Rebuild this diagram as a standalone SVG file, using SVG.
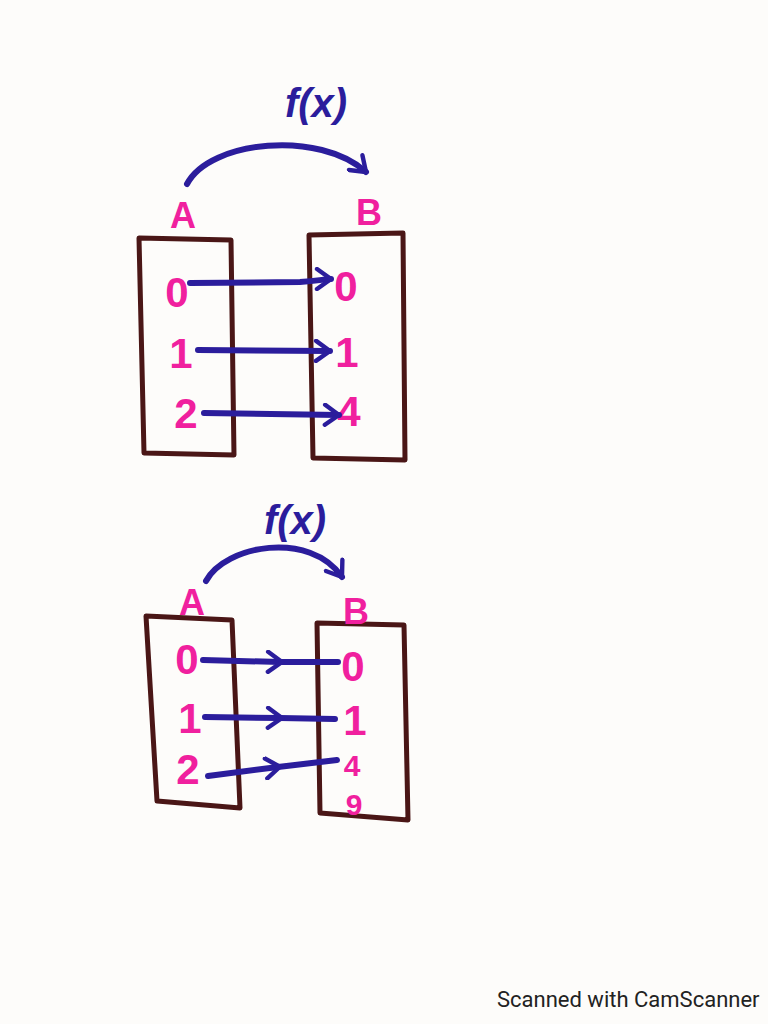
<svg xmlns="http://www.w3.org/2000/svg" width="768" height="1024" viewBox="0 0 768 1024">
<style>
.box{fill:none;stroke:#4a1616;stroke-width:5;stroke-linejoin:round}
.num{fill:#f0209e;font-family:"Liberation Sans",Arial,sans-serif;font-size:42px;font-weight:bold;text-anchor:middle}
.sm{font-size:30px}
.lab{fill:#f0209e;font-family:"Liberation Sans",Arial,sans-serif;font-size:36px;font-weight:bold;text-anchor:middle}
.fx{fill:#2b1d9c;font-family:"Liberation Sans",Arial,sans-serif;font-size:40px;font-weight:bold;font-style:italic;text-anchor:middle}
.ln{fill:none;stroke:#2b1d9c;stroke-width:6;stroke-linecap:round;stroke-linejoin:round}
.credit{fill:#222;font-family:Roboto,"Liberation Sans",sans-serif;font-size:22px}
</style>
<defs>
<marker id="ah" viewBox="0 0 12 12" refX="9" refY="6" markerWidth="4" markerHeight="4" orient="auto" markerUnits="strokeWidth">
<path d="M2,1 L9,6 L2,11" fill="none" stroke="#2b1d9c" stroke-width="2.2" stroke-linecap="round" stroke-linejoin="round"/>
</marker>
<marker id="mh" viewBox="0 0 12 12" refX="8" refY="6" markerWidth="4" markerHeight="4" orient="auto" markerUnits="strokeWidth">
<path d="M2,1 L9,6 L2,11" fill="none" stroke="#2b1d9c" stroke-width="2.2" stroke-linecap="round" stroke-linejoin="round"/>
</marker>
</defs>
<rect width="768" height="1024" fill="#fdfcfa"/>

<!-- Top diagram -->
<g id="top-A">
<polygon class="box" points="139,238 231,240 234,455 144,453"/>
<text class="lab" x="183" y="228">A</text>
<text class="num" x="177" y="307">0</text>
<text class="num" x="181" y="368">1</text>
<text class="num" x="186" y="428">2</text>
</g>
<g id="top-B">
<polygon class="box" points="309,235 403,233 405,460 313,458"/>
<text class="lab" x="369" y="225">B</text>
<text class="num" x="346" y="301">0</text>
<text class="num" x="347" y="367">1</text>
<text class="num" x="349" y="426">4</text>
</g>
<text class="fx" x="316" y="117">f(x)</text>

<!-- Bottom diagram -->
<g id="bot-A">
<polygon class="box" points="146,616 232,620 240,808 157,801"/>
<text class="lab" x="192" y="615">A</text>
<text class="num" x="187" y="674">0</text>
<text class="num" x="190" y="733">1</text>
<text class="num" x="188" y="784">2</text>
</g>
<g id="bot-B">
<polygon class="box" points="317,623 404,625 408,820 320,813"/>
<text class="lab" x="356" y="624">B</text>
<text class="num" x="353" y="681">0</text>
<text class="num" x="355" y="735">1</text>
<text class="num sm" x="352" y="776">4</text>
<text class="num sm" x="354" y="815">9</text>
</g>
<text class="fx" x="295" y="534">f(x)</text>

<g id="connectors">
<path class="ln" d="M187,184 C210,140 320,130 366,172" marker-end="url(#ah)"/>
<path class="ln" d="M190,283 L300,282 C318,281 325,279 331,279" marker-end="url(#ah)"/>
<path class="ln" d="M198,350 L330,351" marker-end="url(#ah)"/>
<path class="ln" d="M204,413 L339,415" marker-end="url(#ah)"/>

<path class="ln" d="M206,581 C225,545 310,530 342,577" marker-end="url(#ah)"/>
<path class="ln" d="M203,660 L280,662 L338,662" marker-mid="url(#mh)"/>
<path class="ln" d="M205,717 L280,718 L335,719" marker-mid="url(#mh)"/>
<path class="ln" d="M208,776 L278,767 L337,760" marker-mid="url(#mh)"/>
</g>

<text class="credit" x="497" y="1007">Scanned with CamScanner</text>
</svg>
